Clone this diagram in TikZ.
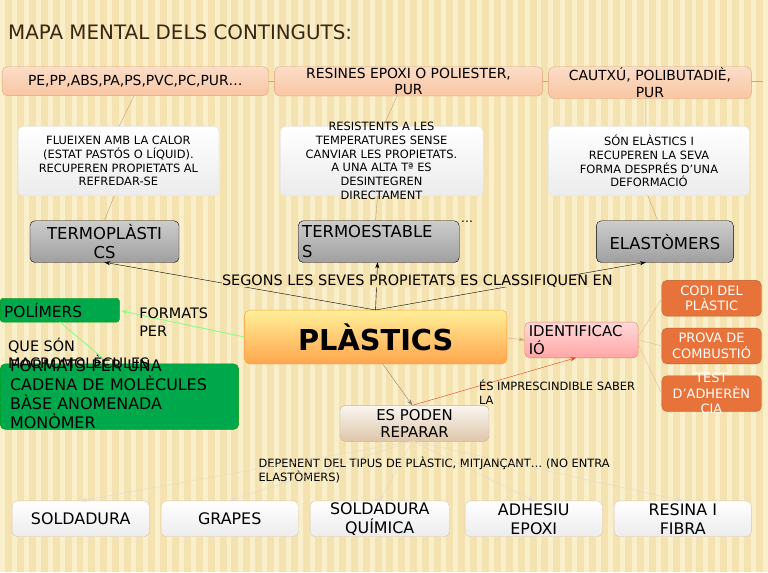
\documentclass[tikz,border=0pt]{standalone}
\usepackage{fontspec}
\setmainfont{DejaVu Sans}
\usetikzlibrary{arrows.meta}
\definecolor{bg}{HTML}{F4E2B0}
\definecolor{stripe}{HTML}{FAEFCB}
\definecolor{salm}{HTML}{F9C6A2}
\definecolor{salmb}{HTML}{E3A27E}
\definecolor{tan}{HTML}{C8A070}
\definecolor{grn}{HTML}{00A84C}
\definecolor{orng}{HTML}{E8733A}
\newcommand{\fsz}[1]{\fontsize{#1}{\fpeval{#1*1.2}}\selectfont}
\begin{document}
\begin{tikzpicture}[x=1pt,y=-1pt,
 fs/.style={font=\fsz{#1}},
 bx/.style={rounded corners=5pt,inner sep=1pt,align=center,anchor=north west},
 topb/.style={bx,draw=salmb,top color=salm!60,bottom color=salm,fs=14},
 descb/.style={bx,draw=white!80!gray,top color=white,bottom color=gray!15,fs=11.5},
 grayb/.style={bx,draw=black,top color=gray!40,bottom color=gray!75,fs=16.5},
 orb/.style={bx,draw=orng!80!black,fill=orng,text=white,fs=13},
 botb/.style={bx,draw=tan!60,top color=white,bottom color=gray!15,fs=16},
 lab/.style={anchor=north west,inner sep=0pt,align=left},
 arr/.style={-{Stealth[length=6pt,width=4pt]}}]
\fill[bg] (0,0) rectangle (768,576);
\foreach \i in {0,12,...,768}{\fill[stripe] (\i,0) rectangle (\i+5,576);}
\useasboundingbox (0,0) rectangle (768,576);
\node[lab,fs=20,text=black!70!brown] (title) at (8,25) {MAPA MENTAL DELS CONTINGUTS:};
% top boxes
\draw[orange!80,thick] (270,82) -- (768,82);
\node[topb,minimum width=268pt,minimum height=29pt] (t1) at (2,67) {PE,PP,ABS,PA,PS,PVC,PC,PUR…};
\node[topb,minimum width=270pt,minimum height=29pt] (t2) at (276,67) {RESINES EPOXI O POLIESTER,\\PUR};
\node[topb,minimum width=204pt,minimum height=29pt] (t3) at (552,67) {CAUTXÚ, POLIBUTADIÈ,\\PUR};
% desc
\node[descb,minimum width=202pt,minimum height=70pt] (d1) at (18,127) {FLUEIXEN AMB LA CALOR\\(ESTAT PASTÓS O LÍQUID).\\RECUPEREN PROPIETATS AL\\REFREDAR-SE};
\node[descb,minimum width=204pt,minimum height=70pt] (d2) at (282,127) {};
\node[fs=11.5,align=center] (d2t) at (384,162) {RESISTENTS A LES\\TEMPERATURES SENSE\\CANVIAR LES PROPIETATS.\\A UNA ALTA Tª ES\\DESINTEGREN\\DIRECTAMENT};
\node[descb,minimum width=202pt,minimum height=70pt] (d3) at (552,127) {SÓN ELÀSTICS I\\RECUPEREN LA SEVA\\FORMA DESPRÉS D’UNA\\DEFORMACIÓ};
% gray
\node[grayb,minimum width=150pt,minimum height=42pt] (g1) at (30,222) {TERMOPLÀSTI\\CS};
\node[grayb,minimum width=162pt,minimum height=42pt,align=left,text width=154pt] (g2) at (300,222) {TERMOESTABLE\\S};
\node[lab,fs=12] (dots) at (464,222) {…};
\node[grayb,minimum width=138pt,minimum height=42pt] (g3) at (600,222) {ELASTÒMERS};
\draw[tan] (135,96) -- (120,127) (115,197) -- (105,222);
\draw[tan] (400,96) -- (386,127) (380,197) -- (378,222);
\draw[tan] (650,96) -- (650,127) (652,197) -- (662,222);
% plastics
\node[bx,draw=orange!80,top color=orange!30!yellow!40,bottom color=orange!70,minimum width=264pt,minimum height=54pt,font=\fsz{29}\bfseries] (pl) at (246,312) {PLÀSTICS};
\coordinate (pt) at (378,312);
\draw[arr] (pt) -- (105,264);
\draw[arr] (pt) -- (380,264);
\draw[arr] (pt) -- (650,264);
\node[fs=14.5,fill=bg,inner sep=0pt] (seg) at (420,283) {SEGONS LES SEVES PROPIETATS ES CLASSIFIQUEN EN};
% polimers
\node[bx,rounded corners=3pt,draw=green!60!black,fill=grn,minimum width=120pt,minimum height=24pt,align=left,fs=15.5,text width=112pt] (pol) at (0,300) {POLÍMERS};
\node[bx,draw=green!60!black,fill=grn,minimum width=240pt,minimum height=66pt] (big) at (0,366) {};
\draw[green!50,thick] (60,324) -- (110,366);
\node[lab,fs=16,text width=235pt] (bigt) at (10,362) {FORMATS PER UNA\\CADENA DE MOLÈCULES\\BÀSE ANOMENADA\\MONÒMER};
\node[lab,fs=14.5] (que) at (8,340) {QUE SÓN\\MACROMOLÈCULES};
\draw[arr,green!50,thick] (pl.west) -- (122,313);
\node[lab,fs=14.5] (fp) at (140,310) {FORMATS\\PER};
% ident
\node[bx,draw=red!40!brown!70,top color=red!15,bottom color=red!35,minimum width=114pt,minimum height=36pt,align=left,text width=106pt,fs=15] (id) at (528,324) {IDENTIFICAC\\IÓ};
\draw[arr,brown!70] (510,340) -- (id.west);
\node[orb,minimum width=100pt,minimum height=36pt] (o1) at (666,282) {CODI DEL\\PLÀSTIC};
\node[orb,minimum width=100pt,minimum height=36pt] (o2) at (666,330) {PROVA DE\\COMBUSTIÓ};
\node[orb,minimum width=100pt,minimum height=36pt] (o3) at (666,378) {};
\node[fs=13,text=white,align=center] (o3t) at (716,396) {TEST\\D’ADHERÈN\\CIA};
\draw[brown!50] (642,340) -- (o1.west) (642,342) -- (o2.west) (642,346) -- (o3.west);
% reparar
\node[bx,draw=tan!80,top color=white!90!tan,bottom color=tan!60,minimum width=150pt,minimum height=36pt,fs=15] (rep) at (342,408) {ES PODEN\\REPARAR};
\draw[arr,gray!80!brown] (385,366) -- (415,408);
\draw[arr,red!50!brown] (415,408) -- (580,360);
\node[lab,fs=11.5] (imp) at (482,382) {ÉS IMPRESCINDIBLE SABER\\LA};
\node[lab,fs=11.5] (dep) at (260,460) {DEPENENT DEL TIPUS DE PLÀSTIC, MITJANÇANT… (NO ENTRA\\ELASTÒMERS)};
% bottom
\node[botb,minimum width=138pt,minimum height=36pt] (b1) at (12,504) {SOLDADURA};
\node[botb,minimum width=138pt,minimum height=36pt] (b2) at (162,504) {GRAPES};
\node[botb,minimum width=140pt,minimum height=36pt] (b3) at (312,504) {SOLDADURA\\QUÍMICA};
\node[botb,minimum width=138pt,minimum height=36pt] (b4) at (468,504) {ADHESIU\\EPOXI};
\node[botb,minimum width=138pt,minimum height=36pt] (b5) at (618,504) {RESINA I\\FIBRA};
\coordinate (rb) at (415,444);
\foreach \n in {b1,b2,b3,b4,b5}{\draw[arr,white!70!gray!80!bg] (rb) -- (\n.north);}
\end{tikzpicture}
\end{document}
